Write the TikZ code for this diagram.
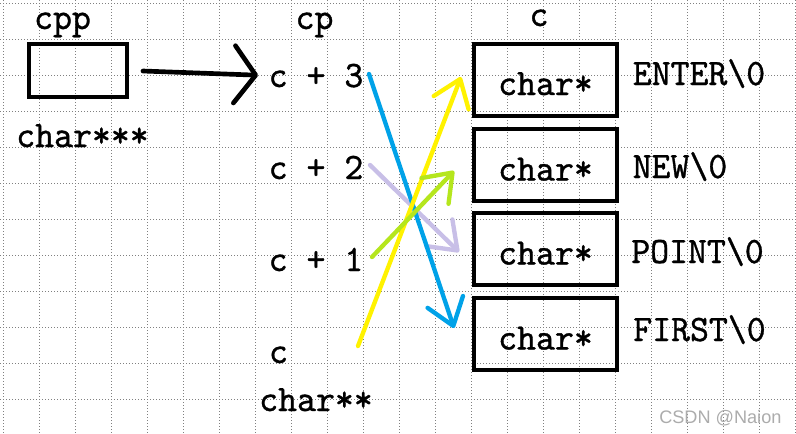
\documentclass[tikz,border=0pt]{standalone}
\usepackage{fontspec}
\newfontfamily\markfont{Liberation Sans}
\newfontfamily\codefont{lmmono10-regular.otf}[FakeBold=0.9, FakeStretch=0.965]
\usetikzlibrary{arrows.meta} % For Straight Barb tips

\tikzset{
  gridline/.style={gray, line width=0.75pt, dash pattern=on 0.75pt off 1.5pt},
  lbl/.style={font=\codefont\fontsize{28}{30}\selectfont, inner sep=0pt, outer sep=0pt, anchor=base},
  cell/.style={draw, line width=3pt, minimum width=107.25pt, minimum height=54pt, inner sep=0pt,
               text height=23.25pt, text depth=0pt, font=\codefont\fontsize{28}{30}\selectfont},
  pen/.style={line width=3.25pt, line cap=round, -{Straight Barb[round, length=19pt, width=28pt]}},
  bigpen/.style={line width=3.5pt, line cap=round, -{Straight Barb[round, length=16pt, width=43pt]}},
}
\definecolor{paintblue}{HTML}{00A2E8}
\definecolor{paintyellow}{HTML}{FFF200}
\definecolor{paintlilac}{HTML}{C8BFE7}
\definecolor{paintlime}{HTML}{B5E61D}

\begin{document}
\begin{tikzpicture}[x=0.75pt, y=-0.75pt] % one unit is one pixel
  \fill[white] (0,0) rectangle (796,433);
  \useasboundingbox (0,0) rectangle (796,433);
  \foreach \gx in {3,39,...,795} \draw[gridline] (\gx,0) -- (\gx,433);
  \foreach \gy in {3,39,...,399} \draw[gridline] (0,\gy) -- (796,\gy);

  % triple pointer
  \node[lbl] (cpp_name) at (62.5,29) {cpp};
  \node[draw, line width=3pt, minimum width=73.5pt, minimum height=39.75pt, inner sep=0pt] (cpp_box) at (78,70.5) {};
  \node[lbl] (cpp_type) at (82.5,147) {char***};

  % pointer column
  \node[lbl] (cp_name) at (314.5,29) {cp};
  \node[lbl] (cp_three) at (316,87) {c + 3};
  \node[lbl] (cp_two) at (316,179) {c + 2};
  \node[lbl] (cp_one) at (316,271) {c + 1};
  \node[lbl] (cp_zero) at (278.5,363) {c};
  \node[lbl] (cp_type) at (316,411) {char**};

  % string array
  \node[lbl] (c_name) at (539,26) {c};
  \node[cell] (str_one) at (545.5,79.5) {char*};
  \node[cell] (str_two) at (545.5,165) {char*};
  \node[cell] (str_three) at (545.5,249) {char*};
  \node[cell] (str_four) at (545.5,334) {char*};

  \node[lbl] (word_enter) at (699,85) {ENTER\textbackslash0};
  \node[lbl] (word_new) at (680,178) {NEW\textbackslash0};
  \node[lbl] (word_point) at (697.5,263) {POINT\textbackslash0};
  \node[lbl] (word_first) at (699.5,341) {FIRST\textbackslash0};

  \node[font=\markfont\fontsize{13.6}{16}\selectfont, text=gray!65, inner sep=0pt, anchor=base west] (mark) at (659,423) {CSDN @Naion};

  % pen strokes
  \coordinate (from_three) at (369,74);
  \coordinate (from_two) at (370,165);
  \coordinate (from_one) at (372,257);
  \coordinate (from_zero) at (358,346);
  \coordinate (to_enter) at (461,77);
  \coordinate (to_new) at (454,171);
  \coordinate (to_point) at (459,252);
  \coordinate (to_first) at (454,328);

  \draw[bigpen, shorten <=10.5pt, shorten >=8pt] (cpp_box.east) -- (cp_three.west);
  \draw[pen, paintlilac] (from_two) -- (to_point);
  \draw[pen, paintblue] (from_three) -- (to_first);
  \draw[pen, paintyellow] (from_zero) -- (to_enter);
  \draw[pen, paintlime] (from_one) -- (to_new);

\end{tikzpicture}
\end{document}
